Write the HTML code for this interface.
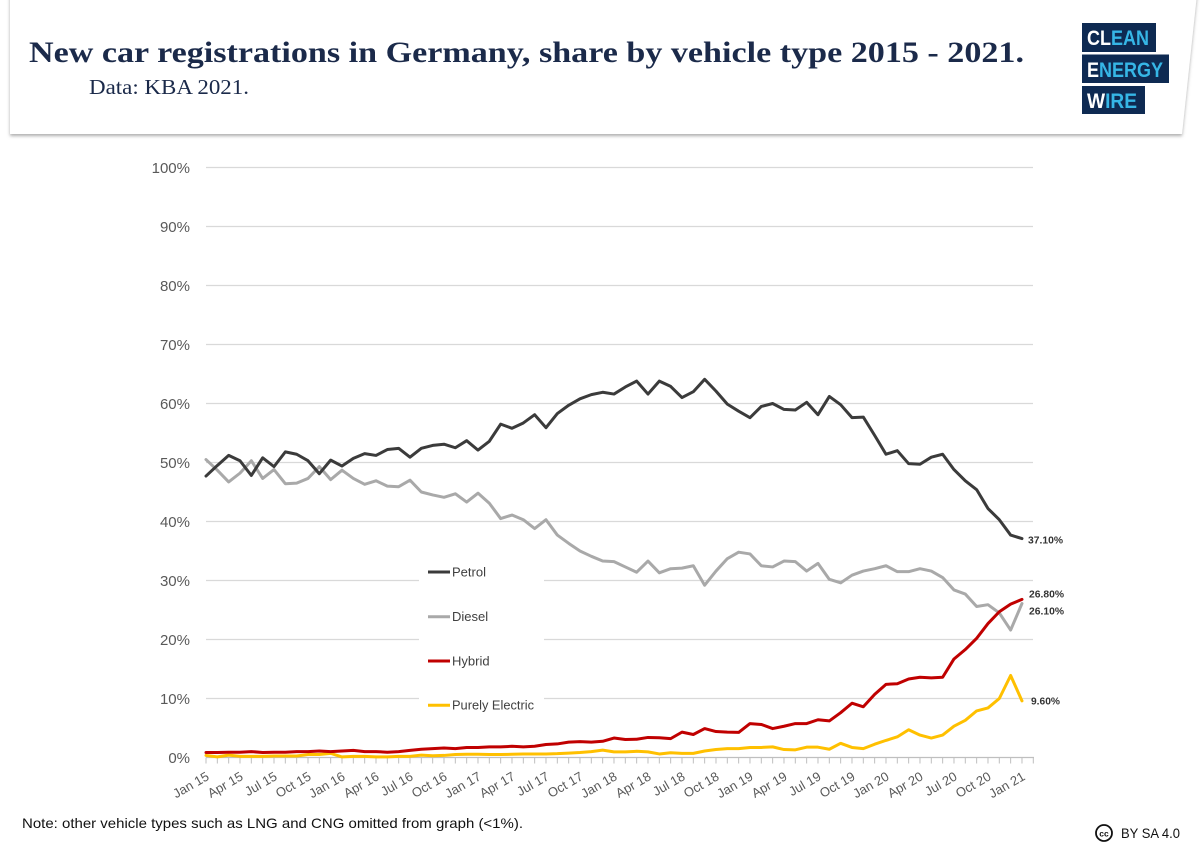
<!DOCTYPE html>
<html><head><meta charset="utf-8"><style>
html,body{margin:0;padding:0;background:#fff;}
svg{display:block;}
text{font-family:"Liberation Sans",sans-serif;}
</style></head><body>
<svg width="1200" height="848" viewBox="0 0 1200 848" xmlns="http://www.w3.org/2000/svg">
<defs>
<filter id="sh" x="-5%" y="-20%" width="110%" height="140%">
<feDropShadow dx="0" dy="2" stdDeviation="1.5" flood-color="#777" flood-opacity="0.6"/>
</filter>
</defs>
<rect width="1200" height="848" fill="#fff"/>
<!-- header card -->
<polygon points="10,-6 1197,-6 1182,134 10,134" fill="#fff" filter="url(#sh)"/>
<text x="29" y="62" font-weight="bold" font-size="30" fill="#1b2a4a" textLength="995" lengthAdjust="spacingAndGlyphs" style="font-family:'Liberation Serif',serif">New car registrations in Germany, share by vehicle type 2015 - 2021.</text>
<text x="89" y="94" font-size="21" fill="#1b2a4a" textLength="160" lengthAdjust="spacingAndGlyphs" style="font-family:'Liberation Serif',serif">Data: KBA 2021.</text>
<!-- logo -->
<rect x="1082" y="23" width="74" height="29" fill="#0e2a52"/>
<rect x="1082" y="54.5" width="87" height="28.5" fill="#0e2a52"/>
<rect x="1082" y="86" width="63" height="28" fill="#0e2a52"/>
<text x="1087" y="45" font-size="21" font-weight="bold" textLength="62" lengthAdjust="spacingAndGlyphs"><tspan fill="#fff">CL</tspan><tspan fill="#36b6e6">EAN</tspan></text>
<text x="1087" y="77" font-size="21" font-weight="bold" textLength="76" lengthAdjust="spacingAndGlyphs"><tspan fill="#fff">E</tspan><tspan fill="#36b6e6">NERGY</tspan></text>
<text x="1087" y="108" font-size="21" font-weight="bold" textLength="50" lengthAdjust="spacingAndGlyphs"><tspan fill="#fff">W</tspan><tspan fill="#36b6e6">IRE</tspan></text>

<!-- gridlines -->
<g stroke="#d9d9d9" stroke-width="1.3">
<line x1="206" x2="1033" y1="167.5" y2="167.5"/>
<line x1="206" x2="1033" y1="226.5" y2="226.5"/>
<line x1="206" x2="1033" y1="285.5" y2="285.5"/>
<line x1="206" x2="1033" y1="344.5" y2="344.5"/>
<line x1="206" x2="1033" y1="403.5" y2="403.5"/>
<line x1="206" x2="1033" y1="462.5" y2="462.5"/>
<line x1="206" x2="1033" y1="521.5" y2="521.5"/>
<line x1="206" x2="1033" y1="580.5" y2="580.5"/>
<line x1="206" x2="1033" y1="639.5" y2="639.5"/>
<line x1="206" x2="1033" y1="698.5" y2="698.5"/>
</g>
<!-- axis -->
<line x1="206" x2="1034" y1="757.5" y2="757.5" stroke="#bfbfbf" stroke-width="1.2"/>
<line x1="205.5" x2="1035" y1="760.5" y2="760.5" stroke="#bfbfbf" stroke-width="6" stroke-dasharray="1 10.333"/>

<!-- y labels -->
<g font-size="15" fill="#595959" text-anchor="end">
<text x="190" y="173">100%</text>
<text x="190" y="232">90%</text>
<text x="190" y="291">80%</text>
<text x="190" y="350">70%</text>
<text x="190" y="409">60%</text>
<text x="190" y="468">50%</text>
<text x="190" y="527">40%</text>
<text x="190" y="586">30%</text>
<text x="190" y="645">20%</text>
<text x="190" y="704">10%</text>
<text x="190" y="763">0%</text>
</g>

<!-- x labels -->
<g font-size="13" fill="#595959" text-anchor="end">
<text transform="translate(210,779) rotate(-30)">Jan 15</text>
<text transform="translate(244,779) rotate(-30)">Apr 15</text>
<text transform="translate(278,779) rotate(-30)">Jul 15</text>
<text transform="translate(312,779) rotate(-30)">Oct 15</text>
<text transform="translate(346,779) rotate(-30)">Jan 16</text>
<text transform="translate(380,779) rotate(-30)">Apr 16</text>
<text transform="translate(414,779) rotate(-30)">Jul 16</text>
<text transform="translate(448,779) rotate(-30)">Oct 16</text>
<text transform="translate(482,779) rotate(-30)">Jan 17</text>
<text transform="translate(516,779) rotate(-30)">Apr 17</text>
<text transform="translate(550,779) rotate(-30)">Jul 17</text>
<text transform="translate(584,779) rotate(-30)">Oct 17</text>
<text transform="translate(618,779) rotate(-30)">Jan 18</text>
<text transform="translate(652,779) rotate(-30)">Apr 18</text>
<text transform="translate(686,779) rotate(-30)">Jul 18</text>
<text transform="translate(720,779) rotate(-30)">Oct 18</text>
<text transform="translate(754,779) rotate(-30)">Jan 19</text>
<text transform="translate(788,779) rotate(-30)">Apr 19</text>
<text transform="translate(822,779) rotate(-30)">Jul 19</text>
<text transform="translate(856,779) rotate(-30)">Oct 19</text>
<text transform="translate(890,779) rotate(-30)">Jan 20</text>
<text transform="translate(924,779) rotate(-30)">Apr 20</text>
<text transform="translate(958,779) rotate(-30)">Jul 20</text>
<text transform="translate(992,779) rotate(-30)">Oct 20</text>
<text transform="translate(1026,779) rotate(-30)">Jan 21</text>
</g>

<!-- legend box -->
<rect x="419" y="553" width="125" height="170" fill="#fff"/>
<g stroke-width="3">
<line x1="428" x2="450" y1="572" y2="572" stroke="#3b3b3b"/>
<line x1="428" x2="450" y1="616.7" y2="616.7" stroke="#a9a9a9"/>
<line x1="428" x2="450" y1="661" y2="661" stroke="#c00000"/>
<line x1="428" x2="450" y1="705.3" y2="705.3" stroke="#ffc000"/>
</g>
<g font-size="13" fill="#404040">
<text x="452" y="576.5">Petrol</text>
<text x="452" y="621">Diesel</text>
<text x="452" y="665.5">Hybrid</text>
<text x="452" y="709.5" textLength="82" lengthAdjust="spacingAndGlyphs">Purely Electric</text>
</g>

<!-- series -->
<g transform="matrix(11.333 0 0 -5.9 206 757.5)" fill="none" stroke-linejoin="round" stroke-linecap="round">
<polyline vector-effect="non-scaling-stroke" stroke="#a9a9a9" stroke-width="3" points="0,50.5 1,48.7 2,46.7 3,48.2 4,50.3 5,47.3 6,48.8 7,46.4 8,46.5 9,47.3 10,49.3 11,47.1 12,48.7 13,47.3 14,46.3 15,46.9 16,46.0 17,45.9 18,47.0 19,45.0 20,44.5 21,44.1 22,44.7 23,43.3 24,44.8 25,43.1 26,40.5 27,41.1 28,40.3 29,38.8 30,40.3 31,37.7 32,36.3 33,35.0 34,34.1 35,33.3 36,33.2 37,32.3 38,31.4 39,33.3 40,31.3 41,32.0 42,32.1 43,32.5 44,29.2 45,31.6 46,33.7 47,34.8 48,34.5 49,32.5 50,32.3 51,33.3 52,33.2 53,31.6 54,32.9 55,30.2 56,29.6 57,30.9 58,31.6 59,32.0 60,32.5 61,31.5 62,31.5 63,32.0 64,31.6 65,30.5 66,28.4 67,27.7 68,25.6 69,25.9 70,24.5 71,21.6 72,26.1"/>
<polyline vector-effect="non-scaling-stroke" stroke="#3b3b3b" stroke-width="3" points="0,47.7 1,49.5 2,51.2 3,50.3 4,47.8 5,50.8 6,49.3 7,51.8 8,51.4 9,50.3 10,48.1 11,50.4 12,49.4 13,50.7 14,51.5 15,51.2 16,52.2 17,52.4 18,50.9 19,52.4 20,52.9 21,53.1 22,52.5 23,53.7 24,52.1 25,53.6 26,56.5 27,55.8 28,56.7 29,58.1 30,55.9 31,58.3 32,59.7 33,60.8 34,61.5 35,61.9 36,61.6 37,62.8 38,63.8 39,61.6 40,63.8 41,62.9 42,61.0 43,62.0 44,64.1 45,62.1 46,59.9 47,58.7 48,57.6 49,59.5 50,60.0 51,59.0 52,58.9 53,60.2 54,58.1 55,61.2 56,59.8 57,57.6 58,57.7 59,54.6 60,51.4 61,52.0 62,49.8 63,49.7 64,50.9 65,51.4 66,48.8 67,46.9 68,45.4 69,42.2 70,40.3 71,37.7 72,37.1"/>
<polyline vector-effect="non-scaling-stroke" stroke="#ffc000" stroke-width="3" points="0,0.35 1,0.1 2,0.4 3,0.2 4,0.2 5,0.2 6,0.25 7,0.25 8,0.25 9,0.5 10,0.5 11,0.7 12,0.1 13,0.2 14,0.2 15,0.1 16,0.1 17,0.2 18,0.2 19,0.4 20,0.3 21,0.35 22,0.5 23,0.55 24,0.55 25,0.5 26,0.5 27,0.55 28,0.6 29,0.6 30,0.6 31,0.65 32,0.75 33,0.85 34,1.0 35,1.25 36,0.95 37,0.95 38,1.05 39,0.95 40,0.6 41,0.8 42,0.7 43,0.7 44,1.1 45,1.35 46,1.5 47,1.5 48,1.7 49,1.7 50,1.8 51,1.35 52,1.3 53,1.75 54,1.75 55,1.4 56,2.4 57,1.7 58,1.5 59,2.25 60,2.9 61,3.5 62,4.7 63,3.8 64,3.3 65,3.8 66,5.3 67,6.3 68,7.9 69,8.4 70,10.0 71,13.9 72,9.6"/>
<polyline vector-effect="non-scaling-stroke" stroke="#c00000" stroke-width="3" points="0,0.85 1,0.85 2,0.9 3,0.9 4,1.0 5,0.85 6,0.9 7,0.9 8,1.0 9,1.0 10,1.1 11,1.0 12,1.1 13,1.2 14,1.0 15,1.0 16,0.9 17,1.0 18,1.2 19,1.4 20,1.5 21,1.6 22,1.5 23,1.7 24,1.7 25,1.8 26,1.8 27,1.9 28,1.8 29,1.9 30,2.2 31,2.3 32,2.6 33,2.7 34,2.6 35,2.75 36,3.3 37,3.05 38,3.1 39,3.4 40,3.35 41,3.2 42,4.3 43,3.9 44,4.9 45,4.4 46,4.3 47,4.25 48,5.75 49,5.6 50,4.9 51,5.3 52,5.75 53,5.75 54,6.4 55,6.2 56,7.6 57,9.2 58,8.6 59,10.7 60,12.4 61,12.5 62,13.3 63,13.6 64,13.5 65,13.6 66,16.7 67,18.3 68,20.2 69,22.7 70,24.7 71,26.0 72,26.8"/>
</g>

<!-- data labels -->
<g font-size="10" fill="#333" font-weight="bold">
<text x="1028" y="543.5" textLength="35" lengthAdjust="spacingAndGlyphs">37.10%</text>
<text x="1029" y="597.5" textLength="35" lengthAdjust="spacingAndGlyphs">26.80%</text>
<text x="1029" y="614.5" textLength="35" lengthAdjust="spacingAndGlyphs">26.10%</text>
<text x="1031" y="704.5" textLength="29" lengthAdjust="spacingAndGlyphs">9.60%</text>
</g>

<!-- footer -->
<text x="22" y="828" font-size="14" fill="#111" textLength="501" lengthAdjust="spacingAndGlyphs">Note: other vehicle types such as LNG and CNG omitted from graph (&lt;1%).</text>
<circle cx="1104" cy="833" r="8" fill="#fff" stroke="#111" stroke-width="1.8"/>
<text x="1104" y="836.3" font-size="8.5" font-weight="bold" fill="#111" text-anchor="middle">cc</text>
<text x="1121" y="838" font-size="14" fill="#111" textLength="59" lengthAdjust="spacingAndGlyphs">BY SA 4.0</text>
</svg>
</body></html>
